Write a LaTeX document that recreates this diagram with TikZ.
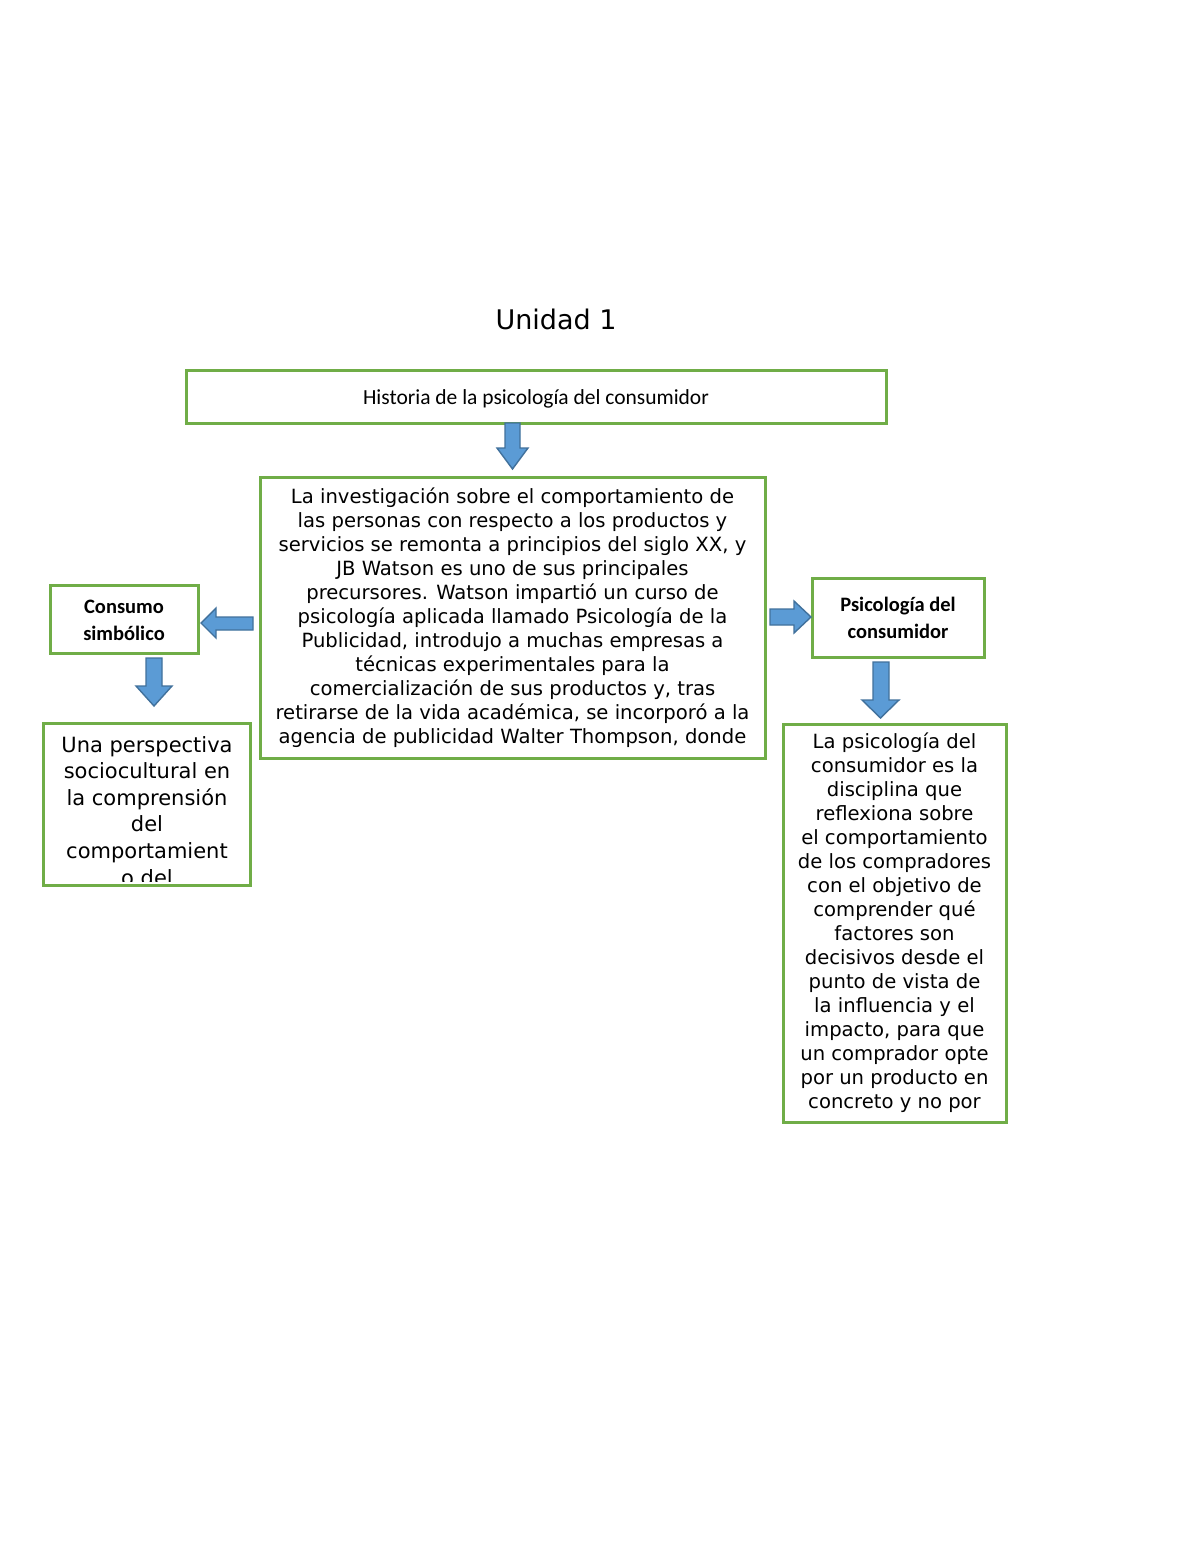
\documentclass[tikz,border=0pt]{standalone}
\usepackage{fontspec}
\setmainfont{DejaVu Sans}
\newfontfamily\calfont{Carlito}
\definecolor{boxgreen}{HTML}{70AD47}
\definecolor{arrowfill}{HTML}{5B9BD5}
\definecolor{arrowline}{HTML}{41719C}
\begin{document}
\begin{tikzpicture}[x=1pt,y=-1pt,
  gbox/.style={draw=boxgreen, line width=3pt, inner sep=0pt, align=center},
  blockarrow/.style={fill=arrowfill, draw=arrowline, line width=1.4pt, line join=miter},
  bodytext/.style={font=\fontsize{19.6}{24}\selectfont},
  titletext/.style={font=\calfont\fontsize{21.5}{26}\selectfont},
  boldtitle/.style={font=\calfont\bfseries\fontsize{20.5}{27}\selectfont},
]
\useasboundingbox[fill=white] (0,0) rectangle (1200,1553);

\node[font=\fontsize{27}{30}\selectfont] (title) at (556,319) {Unidad 1};

\node[gbox, titletext, minimum width=700pt, minimum height=53pt] (hist) at (536,396.5)
  {\raisebox{-2.5pt}[\height][\depth]{Historia de la psicología del consumidor}};

\node[gbox, bodytext, minimum width=505pt, minimum height=281pt] (invest) at (512.5,617.5)
  {La investigación sobre el comportamiento de\\
   las personas con respecto a los productos y\\
   servicios se remonta a principios del siglo XX, y\\
   JB Watson es uno de sus principales\\
   precursores. Watson impartió un curso de\\
   psicología aplicada llamado Psicología de la\\
   Publicidad, introdujo a muchas empresas a\\
   técnicas experimentales para la\\
   comercialización de sus productos y, tras\\
   retirarse de la vida académica, se incorporó a la\\
   agencia de publicidad Walter Thompson, donde};

\node[gbox, boldtitle, minimum width=148pt, minimum height=68pt] (consumo) at (124,619.5)
  {\raisebox{-2pt}[\height][\depth]{\begin{tabular}{@{}c@{}}Consumo\\simbólico\end{tabular}}};

\node[gbox, minimum width=207pt, minimum height=162pt] (socio) at (147,804.5) {};
\begin{scope}
  \clip (45,725) rectangle (249,881.5);
  \node[anchor=north, inner sep=0pt, align=center, font=\fontsize{21}{26.6}\selectfont] (sociotext) at (147,736)
    {Una perspectiva\\sociocultural en\\la comprensión\\del\\comportamient\\o del};
\end{scope}

\node[gbox, boldtitle, minimum width=172pt, minimum height=79pt] (psic) at (898,618)
  {Psicología del\\consumidor};

\node[gbox, bodytext, minimum width=223pt, minimum height=398pt] (defin) at (894.5,923)
  {La psicología del\\
   consumidor es la\\
   disciplina que\\
   reflexiona sobre\\
   el comportamiento\\
   de los compradores\\
   con el objetivo de\\
   comprender qué\\
   factores son\\
   decisivos desde el\\
   punto de vista de\\
   la influencia y el\\
   impacto, para que\\
   un comprador opte\\
   por un producto en\\
   concreto y no por};

% block arrows
\draw[blockarrow] (505,423) -- (520,423) -- (520,448) -- (528,448) -- (512.5,469)
  -- (497,448) -- (505,448) -- cycle;
\draw[blockarrow] (253,617) -- (253,630) -- (216,630) -- (216,638) -- (201,623)
  -- (216,608) -- (216,617) -- cycle;
\draw[blockarrow] (146,658) -- (162,658) -- (162,686) -- (172,686) -- (154,706)
  -- (136,686) -- (146,686) -- cycle;
\draw[blockarrow] (770,609) -- (794,609) -- (794,601) -- (811,617) -- (794,633)
  -- (794,625) -- (770,625) -- cycle;
\draw[blockarrow] (873,662) -- (889,662) -- (889,700) -- (899,700) -- (880.5,718)
  -- (862,700) -- (873,700) -- cycle;
\end{tikzpicture}
\end{document}
